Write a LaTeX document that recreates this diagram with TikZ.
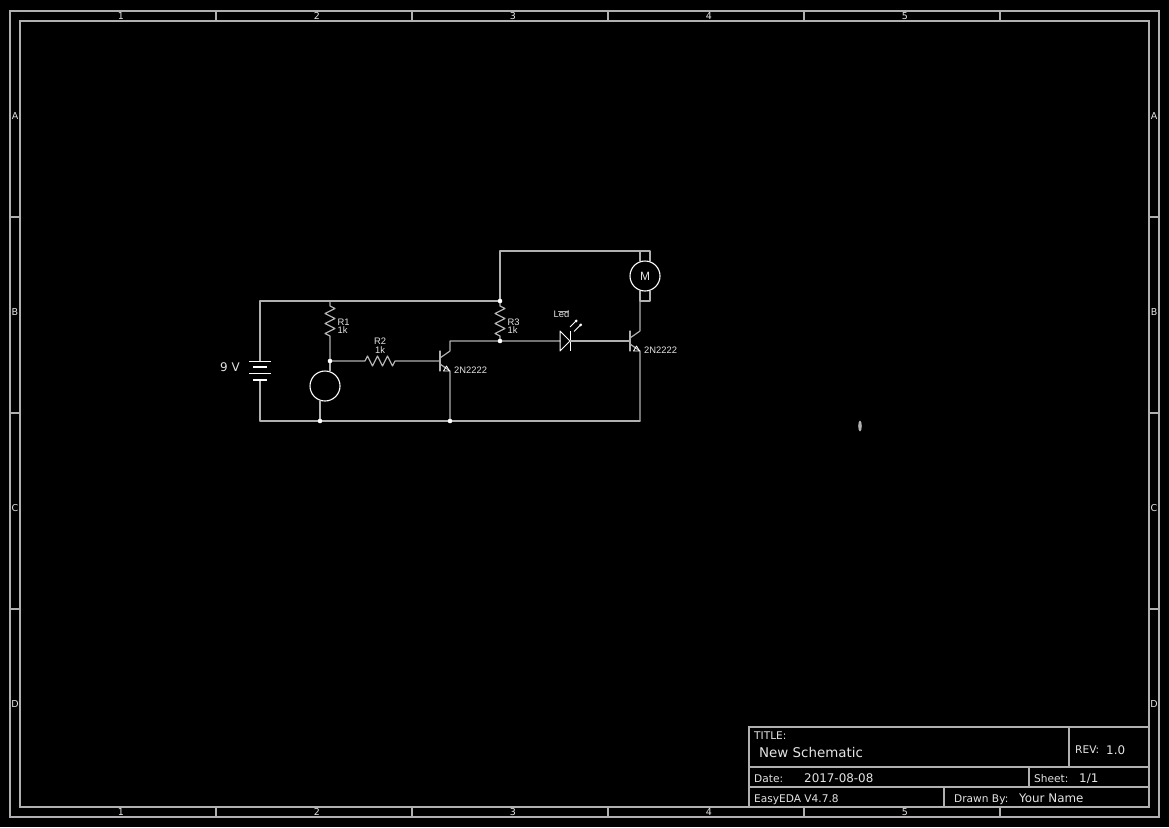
\documentclass[tikz,border=0pt]{standalone}
\usepackage{fontspec}
\setmainfont{DejaVu Sans}
\newfontfamily\labfont{Liberation Sans}
\definecolor{wirec}{HTML}{B0B0B0}
\definecolor{textc}{HTML}{E4E4E4}
\tikzset{
  wire/.style={draw=wirec,line width=1.2pt,line cap=round,line join=round},
  frameline/.style={draw=wirec,line width=1.2pt},
  dotnode/.style={circle,fill=white,inner sep=0pt,minimum size=4.6pt},
  lab/.style={text=textc,inner sep=0pt,anchor=base west,font=\labfont\fontsize{9.4}{9.4}\selectfont},
  zone/.style={text=textc,inner sep=0pt,anchor=center,font=\fontsize{9.5}{10}\selectfont},
  small/.style={text=textc,inner sep=0pt,anchor=base west,font=\fontsize{10.6}{11}\selectfont},
  big/.style={text=textc,inner sep=0pt,anchor=base west,font=\fontsize{11.9}{12}\selectfont},
  symb/.style={circle,draw=white,line width=1.1pt,inner sep=0pt,minimum size=30pt}
}
\begin{document}
\begin{tikzpicture}[x=1pt,y=-1pt]
\fill[black] (0,0) rectangle (1169,827);
\useasboundingbox (0,0) rectangle (1169,827);
% frame
\draw[frameline] (10,11) rectangle (1159,817);
\draw[frameline] (20,21) rectangle (1149,807);
\foreach \x in {216,412,608,804,1000}{
  \draw[frameline] (\x,11) -- (\x,21);
  \draw[frameline] (\x,807) -- (\x,817);
}
\foreach \y in {217,413,609}{
  \draw[frameline] (10,\y) -- (20,\y);
  \draw[frameline] (1149,\y) -- (1159,\y);
}
\foreach \x/\t in {121/1,317/2,513/3,709/4,905/5}{
  \node[zone] (zt\t) at (\x,16) {\t};
  \node[zone] (zb\t) at (\x,812) {\t};
}
\foreach \y/\t in {116/A,312/B,508/C,704/D}{
  \node[zone] (zl\t) at (15,\y) {\t};
  \node[zone] (zr\t) at (1154,\y) {\t};
}
% title block
\draw[frameline] (749,727) rectangle (1149,807);
\draw[frameline] (749,767) -- (1149,767);
\draw[frameline] (749,787) -- (1149,787);
\draw[frameline] (1069,727) -- (1069,767);
\draw[frameline] (1029,767) -- (1029,787);
\draw[frameline] (944,787) -- (944,807);
\node[small] (t1) at (754,739) {TITLE:};
\node[big,font=\fontsize{13.4}{13.4}\selectfont] (t2) at (759,757) {New Schematic};
\node[small] (t3) at (1075,753) {REV:};
\node[big] (t4) at (1106,754) {1.0};
\node[small] (t5) at (754,782) {Date:};
\node[big] (t6) at (804,782) {2017-08-08};
\node[small] (t7) at (1034,782) {Sheet:};
\node[big] (t8) at (1079,782) {1/1};
\node[small] (t9) at (754,802) {EasyEDA V4.7.8};
\node[small] (t10) at (954,802) {Drawn By:};
\node[big] (t11) at (1019,802) {Your Name};
% stray mark
\fill[wirec] (860,426) ellipse (1.8 and 5.5);
% junctions
\coordinate (tl) at (260,301);
\coordinate (tm) at (500,301);
\coordinate (bl) at (260,421);
\coordinate (br) at (640,421);
\coordinate (mtop) at (500,251);
\coordinate (mt) at (640,251);
\coordinate (cq1) at (450,341);
% battery
\coordinate (batp) at (260,361.5);
\coordinate (batn) at (260,380.5);
\draw[wire] (bl) -- (batn);
\draw[wire] (batp) -- (tl) -- (tm);
\draw[wire] (bl) -- (br);
\draw[draw=white,line width=1.5pt] (249,361.5) -- (271,361.5);
\draw[draw=white,line width=1.5pt] (253,367) -- (267,367);
\draw[draw=white,line width=1.5pt] (249,373.5) -- (271,373.5);
\draw[draw=white,line width=1.5pt] (253,380) -- (267,380);
\node[big] (v9) at (220,371) {9 V};
% R1
\draw[wire] (330,301) -- (330,306) -- (335,308.5) -- (325,313.5) -- (335,318.5) -- (325,323.5) -- (335,328.5) -- (325,333.5) -- (330,336) -- (330,361);
\node[lab] (r1) at (337.5,325) {R1};
\node[lab] (r1v) at (337.5,333.5) {1k};
% R3
\draw[wire] (tm) -- (500,306) -- (505,308.5) -- (495,313.5) -- (505,318.5) -- (495,323.5) -- (505,328.5) -- (495,333.5) -- (500,336) -- (500,341);
\node[lab] (r3) at (507.5,325) {R3};
\node[lab] (r3v) at (507.5,333.5) {1k};
% R2 and base
\draw[wire] (330,361) -- (365,361) -- (367.5,356) -- (372.5,366) -- (377.5,356) -- (382.5,366) -- (387.5,356) -- (392.5,366) -- (395,361) -- (440,361);
\node[lab] (r2) at (374,344.5) {R2};
\node[lab] (r2v) at (375,353) {1k};
% source circle
\node[symb] (src) at (325,386) {};
\draw[wire] (330,361) -- (330,371);
\draw[wire] (320,401) -- (320,421);
% Q1
\draw[wire] (440,351) -- (440,371);
\draw[wire] (440,358) -- (450,351) -- (cq1) -- (560,341);
\draw[wire] (440,364) -- (450,371) -- (450,421);
\draw[draw=white,line width=.8pt,line join=round] (449.5,371) -- (443.5,371) -- (446.5,366) -- cycle;
\node[lab] (q1) at (454,373) {2N2222};
% LED
\draw[draw=white,line width=1pt,line join=round] (560,331) -- (570,341) -- (560,351) -- cycle;
\draw[draw=white,line width=1pt] (570,331) -- (570,351);
\draw[wire] (570,341) -- (630,341);
\draw[draw=white,line width=.8pt] (570,327) -- (577,320);
\draw[draw=white,line width=.8pt] (574,331.5) -- (581.5,324);
\fill[white] (576,321) circle (1.5);
\fill[white] (580.5,325) circle (1.5);
\node[lab] (led) at (553.5,317) {Led};
\draw[draw=wirec,line width=.5pt] (558,311) -- (569,311);
% Q2
\draw[wire] (630,331) -- (630,351);
\draw[wire] (630,338) -- (640,331) -- (640,301);
\draw[wire] (630,344) -- (640,351) -- (br);
\draw[draw=white,line width=.8pt,line join=round] (639.5,351) -- (633.5,351) -- (636.5,346) -- cycle;
\node[lab] (q2) at (644,353) {2N2222};
% motor
\draw[wire] (tm) -- (mtop) -- (mt) -- (650,251) -- (650,261);
\draw[wire] (640,251) -- (640,261);
\draw[wire] (640,291) -- (640,301) -- (650,301) -- (650,291);
\node[symb,fill=black,text=textc,font=\labfont\fontsize{12}{12}\selectfont] (mot) at (645,276) {M};
% dots
\node[dotnode] (d1) at (500,301) {};
\node[dotnode] (d2) at (500,341) {};
\node[dotnode] (d3) at (330,361) {};
\node[dotnode] (d4) at (320,421) {};
\node[dotnode] (d5) at (450,421) {};
\end{tikzpicture}
\end{document}
